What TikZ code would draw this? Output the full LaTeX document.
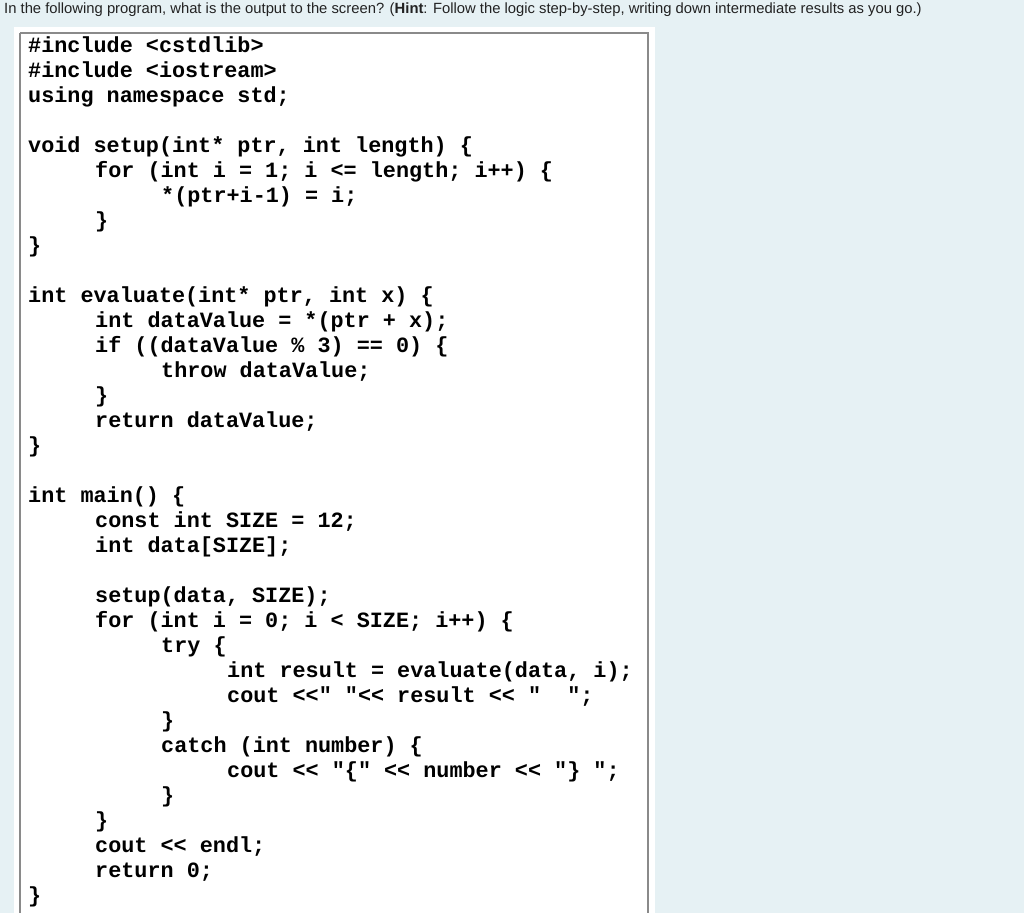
\documentclass[tikz,border=0pt]{standalone}
\usepackage{fontspec}
\setmainfont{Liberation Sans}
\newfontfamily\codefont{Liberation Mono}
\definecolor{bgblue}{HTML}{E6F1F4}
\definecolor{boxgray}{HTML}{8A8A8A}
\definecolor{txtgray}{HTML}{222222}
\begin{document}
\begin{tikzpicture}[x=1pt,y=-1pt,
  cl/.style={anchor=base west,inner sep=0pt,font=\codefont\bfseries\fontsize{21.8}{25}\selectfont,text=black}]
\useasboundingbox (0,0) rectangle (1024,913);
\fill[bgblue] (0,0) rectangle (1024,913);
\fill[white] (14,27) rectangle (655,913);
\draw[boxgray,line width=1.2pt] (20,33) -- (648,33) -- (648,913) (20,33) -- (20,913);
\node[anchor=base west,inner sep=0pt,font=\fontsize{14.8}{16}\selectfont,text=txtgray] (q) at (4,13)
 {In the following program, what is the output to the screen? (\textbf{Hint}: Follow the logic step-by-step, writing down intermediate results as you go.)};
\def\A{28}\def\B{95}\def\C{161}\def\D{227}
\newcommand\codeline[3]{\node[cl] (l#1) at (#2,{52+25*#1}) {#3};}
\codeline{0}{\A}{\#include <cstdlib>}
\codeline{1}{\A}{\#include <iostream>}
\codeline{2}{\A}{using namespace std;}
\codeline{4}{\A}{void setup(int* ptr, int length) \{}
\codeline{5}{\B}{for (int i = 1; i <= length; i++) \{}
\codeline{6}{\C}{*(ptr+i-1) = i;}
\codeline{7}{\B}{\}}
\codeline{8}{\A}{\}}
\codeline{10}{\A}{int evaluate(int* ptr, int x) \{}
\codeline{11}{\B}{int dataValue = *(ptr + x);}
\codeline{12}{\B}{if ((dataValue \% 3) == 0) \{}
\codeline{13}{\C}{throw dataValue;}
\codeline{14}{\B}{\}}
\codeline{15}{\B}{return dataValue;}
\codeline{16}{\A}{\}}
\codeline{18}{\A}{int main() \{}
\codeline{19}{\B}{const int SIZE = 12;}
\codeline{20}{\B}{int data[SIZE];}
\codeline{22}{\B}{setup(data, SIZE);}
\codeline{23}{\B}{for (int i = 0; i < SIZE; i++) \{}
\codeline{24}{\C}{try \{}
\codeline{25}{\D}{int result = evaluate(data, i);}
\codeline{26}{\D}{cout <<" "<< result << "~~";}
\codeline{27}{\C}{\}}
\codeline{28}{\C}{catch (int number) \{}
\codeline{29}{\D}{cout << "\{" << number << "\} ";}
\codeline{30}{\C}{\}}
\codeline{31}{\B}{\}}
\codeline{32}{\B}{cout << endl;}
\codeline{33}{\B}{return 0;}
\codeline{34}{\A}{\}}
\end{tikzpicture}
\end{document}
